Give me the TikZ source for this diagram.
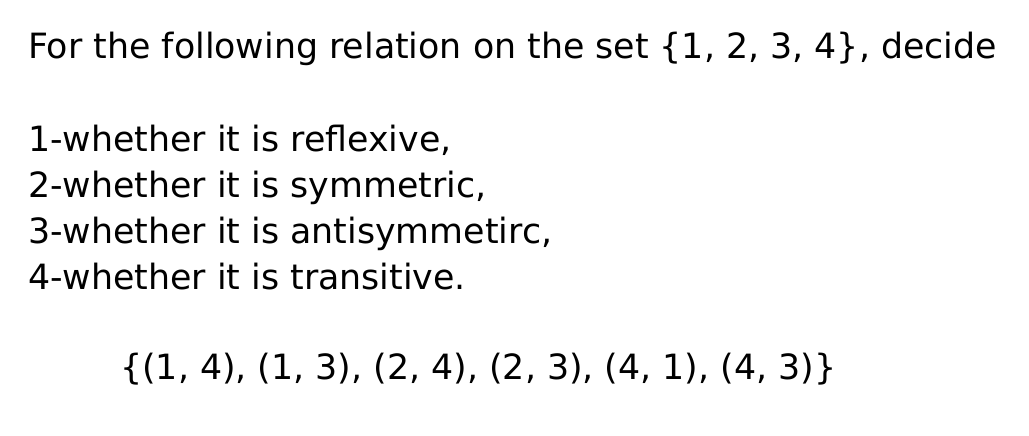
\documentclass[tikz,border=0pt]{standalone}
\usepackage{fontspec}
\setmainfont{DejaVu Sans}
\begin{document}
\begin{tikzpicture}[x=1pt,y=1pt,txt/.style={anchor=base west,inner sep=0pt,font=\fontsize{34.8}{42}\selectfont}]
\useasboundingbox (0,0) rectangle (1029,436);
\node[txt] (l1) at (28,436-59) {For the following relation on the set \{1, 2, 3, 4\}, decide};
\node[txt] (l2) at (28,436-152) {1-whether it is reflexive,};
\node[txt] (l3) at (28,436-198) {2-whether it is symmetric,};
\node[txt] (l4) at (28,436-244) {3-whether it is antisymmetirc,};
\node[txt] (l5) at (28,436-290) {4-whether it is transitive.};
\node[txt] (l6) at (120,436-380) {\{(1, 4), (1, 3), (2, 4), (2, 3), (4, 1), (4, 3)\}};
\end{tikzpicture}
\end{document}
